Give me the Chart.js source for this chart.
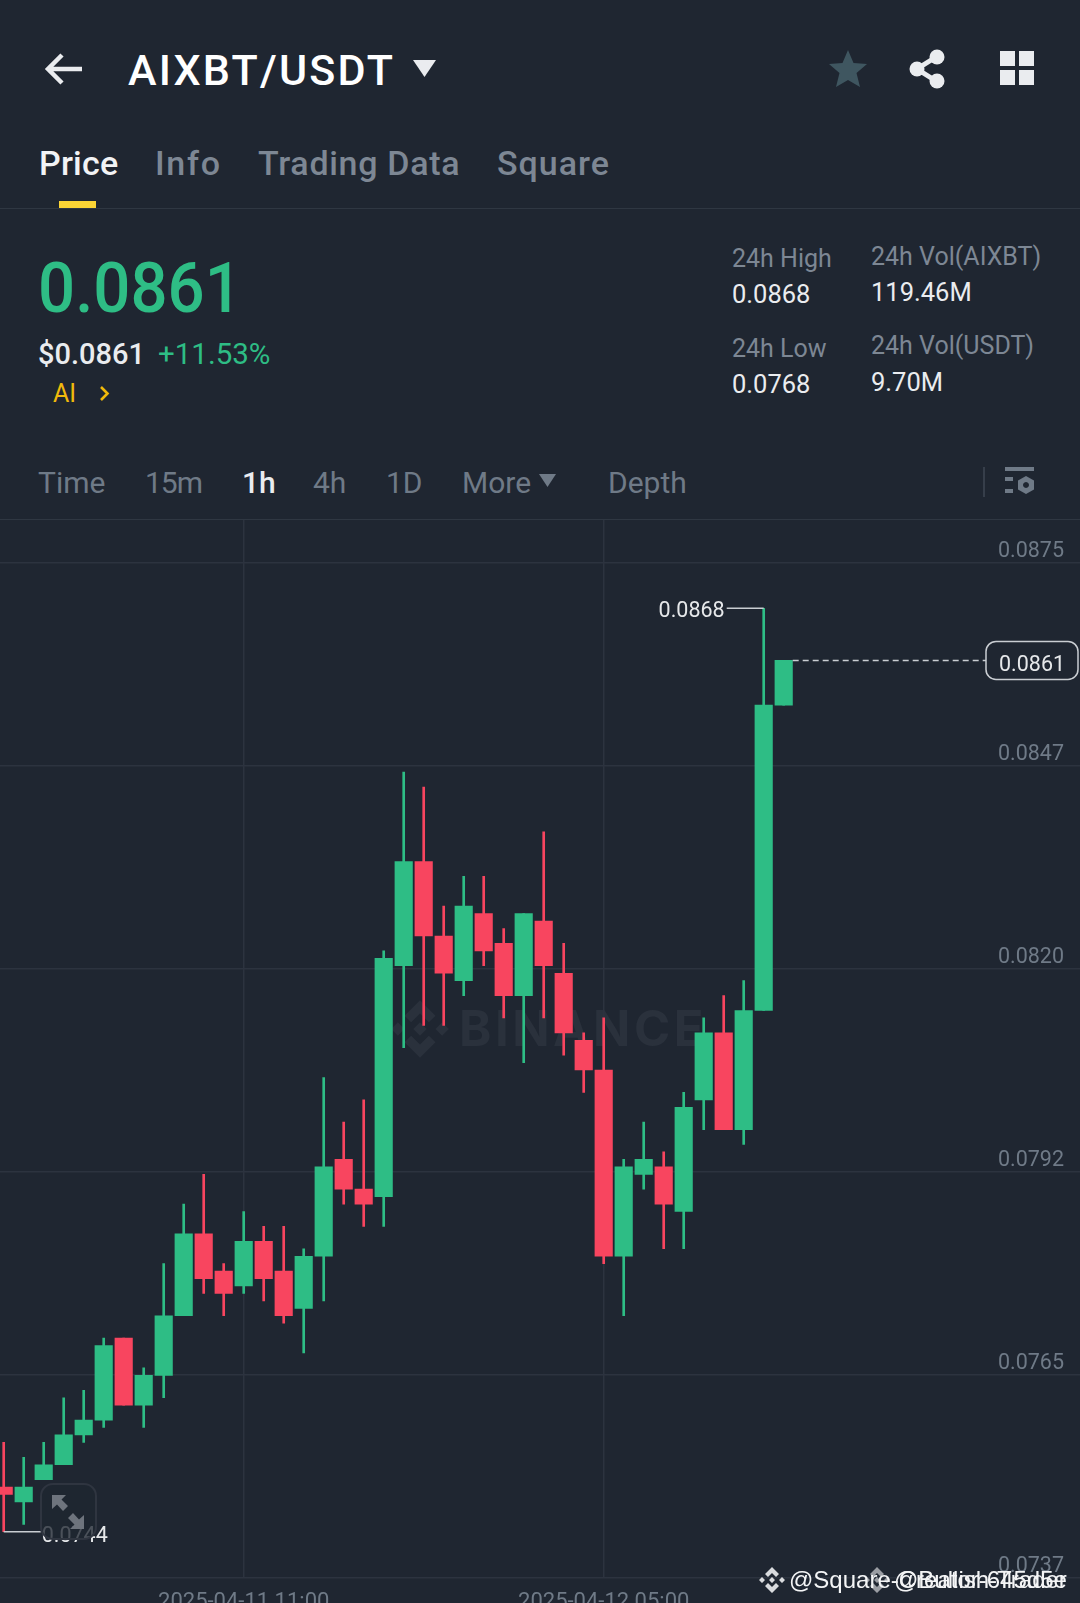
<!DOCTYPE html>
<html>
<head>
<meta charset="utf-8">
<title>AIXBT/USDT</title>
<script src="https://cdn.jsdelivr.net/npm/chart.js@4/dist/chart.umd.min.js"></script>
<style>
  html, body { margin: 0; padding: 0; width: 1080px; height: 1603px; overflow: hidden; background: #1f2631; }
  body { position: relative; font-family: Roboto, sans-serif; color: #eaecef; }
  .t { position: absolute; white-space: nowrap; line-height: 1; }
  .grey { color: #7d8794; }
  .tab { font-size: 34px; font-weight: 500; top: 146px; letter-spacing: 0.7px; }
  .stat { font-size: 25.5px; }
  .label { font-size: 25px; }
  .range { font-size: 30px; top: 468px; color: #6f7a87; }
  svg { position: absolute; }
  #chartWrap { position: absolute; left: 0; top: 520px; width: 1080px; height: 1100px; z-index: 2; }
  #wmText { position: absolute; left: 459px; top: 1004px; font: 700 49px Inter, sans-serif; letter-spacing: 3.5px; color: #2a313c; z-index: 1; line-height: 1; }
  .stamp { position: absolute; top: 1568px; font: 24px "Liberation Sans", sans-serif; color: #f4f5f6; z-index: 3; white-space: nowrap; line-height: 1; }
</style>
</head>
<body>
  <!-- top bar -->
  <svg style="left:44px;top:52px" width="40" height="34" viewBox="0 0 40 34"><path d="M18 3 L4 17 L18 31 M4 17 H38" fill="none" stroke="#eaecef" stroke-width="4.5"/></svg>
  <div class="t" style="left:128px;top:49px;font-size:43px;font-weight:500;letter-spacing:2.2px;color:#fff">AIXBT/USDT</div>
  <svg style="left:413px;top:60px" width="23" height="18"><path d="M0 0 H23 L11.5 17 Z" fill="#eaecef"/></svg>
  <svg style="left:828px;top:49px" width="40" height="40" viewBox="0 0 40 40"><path d="M20 1 L25.5 14 L39 15 L28.5 24 L32 38 L20 31 L8 38 L11.5 24 L1 15 L14.5 14 Z" fill="#3f5660"/></svg>
  <svg style="left:908px;top:48px" width="40" height="42" viewBox="0 0 40 42"><path d="M28 9 L9 21 L28 33" fill="none" stroke="#eaecef" stroke-width="5"/><circle cx="29" cy="9" r="7.5" fill="#eaecef"/><circle cx="9" cy="21" r="7.5" fill="#eaecef"/><circle cx="29" cy="33" r="7.5" fill="#eaecef"/></svg>
  <svg style="left:1000px;top:51px" width="34" height="34"><path d="M0 0 H15 V15 H0 Z M19 0 H34 V15 H19 Z M0 19 H15 V34 H0 Z M19 19 H34 V34 H19 Z" fill="#eaecef"/></svg>

  <!-- tabs -->
  <div class="t tab" style="left:39px;color:#f2f3f5;letter-spacing:0.2px">Price</div>
  <div class="t tab grey" style="left:155px;letter-spacing:1.7px">Info</div>
  <div class="t tab grey" style="left:258px">Trading Data</div>
  <div class="t tab grey" style="left:497px;letter-spacing:1px">Square</div>
  <div style="position:absolute;left:59px;top:201px;width:37px;height:7px;background:#fcd535"></div>
  <div style="position:absolute;left:0;top:208px;width:1080px;height:1px;background:#2f3742"></div>

  <!-- price block -->
  <div class="t" style="left:38px;top:252px;font-size:71px;font-weight:500;color:#2ebd85;transform:scaleX(0.92);transform-origin:left center">0.0861</div>
  <div class="t" style="left:38px;top:340px;font-size:29px;font-weight:500">$0.0861</div>
  <div class="t" style="left:158px;top:340px;font-size:29.5px;color:#2ebd85">+11.53%</div>
  <div class="t" style="left:53px;top:381px;font-size:25px;color:#f0b90b">AI</div>
  <svg style="left:99px;top:385px" width="11" height="17"><path d="M2 2 L8.5 8.5 L2 15" fill="none" stroke="#f0b90b" stroke-width="2.6"/></svg>

  <!-- 24h stats -->
  <div class="t label grey" style="left:732px;top:246px">24h High</div>
  <div class="t stat" style="left:732px;top:282px">0.0868</div>
  <div class="t label grey" style="left:732px;top:336px">24h Low</div>
  <div class="t stat" style="left:732px;top:372px">0.0768</div>
  <div class="t label grey" style="left:871px;top:244px">24h Vol(AIXBT)</div>
  <div class="t stat" style="left:871px;top:280px">119.46M</div>
  <div class="t label grey" style="left:871px;top:333px">24h Vol(USDT)</div>
  <div class="t stat" style="left:871px;top:370px">9.70M</div>

  <!-- interval row -->
  <div class="t range" style="left:38px">Time</div>
  <div class="t range" style="left:145px;letter-spacing:-1px">15m</div>
  <div class="t range" style="left:242px;color:#eaecef;font-weight:500">1h</div>
  <div class="t range" style="left:313px">4h</div>
  <div class="t range" style="left:386px">1D</div>
  <div class="t range" style="left:462px">More</div>
  <svg style="left:539px;top:474px" width="17" height="13"><path d="M0 0 H17 L8.5 13 Z" fill="#6f7a87"/></svg>
  <div class="t range" style="left:608px">Depth</div>
  <div style="position:absolute;left:983px;top:467px;width:2px;height:30px;background:#363e4a"></div>
  <svg style="left:1005px;top:467px" width="30" height="30" viewBox="0 0 30 30"><path d="M0 0 H29 V4 H0 Z M0 10 H8 V14 H0 Z M0 22 H8 V26 H0 Z" fill="#6f7a87"/><path d="M21 9 L29 13.5 V22.5 L21 27 L13 22.5 V13.5 Z M21 15 a3 3 0 1 0 0.01 0 Z" fill="#6f7a87" fill-rule="evenodd"/></svg>

  <!-- watermark sits behind the transparent canvas -->
  <svg style="left:389px;top:998px;z-index:1" width="62" height="62" viewBox="0 0 28 28"><path d="M14 1 L21 8 L18 11 L14 7 L10 11 L7 8 Z M14 27 L7 20 L10 17 L14 21 L18 17 L21 20 Z M1 14 L4 11 L7 14 L4 17 Z M27 14 L24 17 L21 14 L24 11 Z M14 11 L17 14 L14 17 L11 14 Z" fill="#2a313c"/></svg>
  <div id="wmText">BINANCE</div>

  <div style="position:absolute;left:0;top:519px;width:1080px;height:1px;background:#2f3742"></div>
  <div id="chartWrap"><canvas id="klineChart" width="1080" height="1100"></canvas></div>

  <!-- expand button -->
  <div style="position:absolute;left:40px;top:1483px;width:53px;height:53px;border:2px solid #2f3540;border-radius:13px;background:rgba(31,38,49,0.78);z-index:3"></div>
  <svg style="left:51px;top:1494px;z-index:4" width="34" height="36" viewBox="0 0 34 36"><path d="M1 1 H15 L10.5 5.5 L17 12 L12 17 L6 10.5 L1 15 Z M33 35 H19 L23.5 30.5 L17 24 L22 19 L28 25.5 L33 21 Z" fill="#6e747d"/></svg>

  <!-- overlaid platform stamps -->
  <svg style="left:758px;top:1566px;z-index:3" width="28" height="28" viewBox="0 0 28 28"><path d="M14 1 L21 8 L18 11 L14 7 L10 11 L7 8 Z M14 27 L7 20 L10 17 L14 21 L18 17 L21 20 Z M1 14 L4 11 L7 14 L4 17 Z M27 14 L24 17 L21 14 L24 11 Z M14 11 L17 14 L14 17 L11 14 Z" fill="#d9dbde"/></svg>
  <svg style="left:863px;top:1566px;z-index:3" width="28" height="28" viewBox="0 0 28 28"><path d="M14 1 L21 8 L18 11 L14 7 L10 11 L7 8 Z M14 27 L7 20 L10 17 L14 21 L18 17 L21 20 Z M1 14 L4 11 L7 14 L4 17 Z M27 14 L24 17 L21 14 L24 11 Z M14 11 L17 14 L14 17 L11 14 Z" fill="#9a9da3"/></svg>
  <div class="stamp" style="left:789px">@Square-Creator-645d5e</div>
  <div class="stamp" style="left:894px">@Bullish-Trader</div>

<script>
// bougies 1h, de gauche a droite
const opens = [
    0.0750, 0.0748, 0.0751, 0.0753, 0.0757, 0.0759, 0.0770, 0.0761, 0.0765, 0.0773,
    0.0784, 0.0779, 0.0777, 0.0783, 0.0779, 0.0774, 0.0781, 0.0794, 0.0790, 0.0789,
    0.0820, 0.0834, 0.0824, 0.0818, 0.0827, 0.0823, 0.0816, 0.0826, 0.0819, 0.0810,
    0.0806, 0.0781, 0.0792, 0.0793, 0.0787, 0.0802, 0.0811, 0.0798, 0.0814, 0.0855
];
const highs = [
    0.0756, 0.0754, 0.0756, 0.0762, 0.0763, 0.0770, 0.0770, 0.0766, 0.0780, 0.0788,
    0.0792, 0.0780, 0.0787, 0.0785, 0.0785, 0.0782, 0.0805, 0.0799, 0.0802, 0.0822,
    0.0846, 0.0844, 0.0828, 0.0832, 0.0832, 0.0825, 0.0827, 0.0838, 0.0823, 0.0811,
    0.0813, 0.0794, 0.0799, 0.0795, 0.0803, 0.0813, 0.0816, 0.0818, 0.0868, 0.0861
];
const lows = [
    0.0744, 0.0745, 0.0751, 0.0753, 0.0756, 0.0758, 0.0761, 0.0758, 0.0762, 0.0773,
    0.0776, 0.0773, 0.0776, 0.0775, 0.0772, 0.0768, 0.0775, 0.0788, 0.0785, 0.0785,
    0.0809, 0.0812, 0.0812, 0.0816, 0.0820, 0.0813, 0.0807, 0.0813, 0.0808, 0.0803,
    0.0780, 0.0773, 0.0790, 0.0782, 0.0782, 0.0798, 0.0798, 0.0796, 0.0814, 0.0855
];
const closes = [
    0.0749, 0.0750, 0.0753, 0.0757, 0.0759, 0.0769, 0.0761, 0.0765, 0.0773, 0.0784,
    0.0778, 0.0776, 0.0783, 0.0778, 0.0773, 0.0781, 0.0793, 0.0790, 0.0788, 0.0821,
    0.0834, 0.0824, 0.0819, 0.0828, 0.0822, 0.0816, 0.0827, 0.0820, 0.0811, 0.0806,
    0.0781, 0.0793, 0.0794, 0.0788, 0.0801, 0.0811, 0.0798, 0.0814, 0.0855, 0.0861
];

const priceTicks = [0.087418, 0.084686, 0.08196, 0.079237, 0.076509, 0.073783];
const priceLabels = ['0.0875', '0.0847', '0.0820', '0.0792', '0.0765', '0.0737'];
const timeTicks = [12, 30];
const timeLabels = ['2025-04-11 11:00', '2025-04-12 05:00'];

const colors = {
    up: '#2ebd85',
    down: '#f8455f',
    grid: '#2c333f',
    axisText: '#6f7a87',
    note: '#e6e8ea'
};

const barColors = opens.map((o, i) => closes[i] >= o ? colors.up : colors.down);
const wicks = opens.map((o, i) => ({ x: i, y: [lows[i], highs[i]] }));
const bodies = opens.map((o, i) => ({ x: i, y: [o, closes[i]] }));

// prix max, prix min et dernier prix, positionnes avec les echelles
const priceNotes = {
    id: 'priceNotes',
    afterDatasetsDraw(chart) {
        const { ctx, scales: { x, y } } = chart;
        const last = closes.length - 1;
        const maxIdx = highs.indexOf(Math.max(...highs));
        const minIdx = lows.indexOf(Math.min(...lows));
        const font = '21.5px Roboto, sans-serif';

        ctx.save();
        ctx.font = font;
        ctx.textBaseline = 'middle';
        ctx.strokeStyle = '#c9cdd2';
        ctx.lineWidth = 1.5;

        // max
        const maxX = x.getPixelForValue(maxIdx), maxY = y.getPixelForValue(highs[maxIdx]);
        ctx.beginPath();
        ctx.moveTo(maxX, maxY);
        ctx.lineTo(maxX - 37, maxY);
        ctx.stroke();
        ctx.fillStyle = colors.note;
        ctx.textAlign = 'right';
        ctx.fillText(highs[maxIdx].toFixed(4), maxX - 39, maxY + 3);

        // min
        const minX = x.getPixelForValue(minIdx), minY = y.getPixelForValue(lows[minIdx]);
        ctx.beginPath();
        ctx.moveTo(minX, minY);
        ctx.lineTo(minX + 37, minY);
        ctx.stroke();
        ctx.textAlign = 'left';
        ctx.fillText(lows[minIdx].toFixed(4), minX + 38, minY + 5);

        // dernier prix
        const lastX = x.getPixelForValue(last), lastY = y.getPixelForValue(closes[last]);
        ctx.setLineDash([6, 4]);
        ctx.beginPath();
        ctx.moveTo(lastX + 9, lastY);
        ctx.lineTo(986, lastY);
        ctx.stroke();
        ctx.setLineDash([]);
        ctx.beginPath();
        ctx.roundRect(986, lastY - 19, 92, 38, 10);
        ctx.fillStyle = '#1f2631';
        ctx.fill();
        ctx.stroke();
        ctx.fillStyle = colors.note;
        ctx.textAlign = 'center';
        ctx.fillText(closes[last].toFixed(4), 1032, lastY + 5);
        ctx.restore();
    }
};

Chart.defaults.font.family = 'Roboto, sans-serif';

new Chart(document.getElementById('klineChart'), {
    type: 'bar',
    data: {
        datasets: [
            { label: 'High/Low', data: wicks, backgroundColor: barColors, barThickness: 2, grouped: false, order: 2 },
            { label: 'Open/Close', data: bodies, backgroundColor: barColors, barThickness: 17.5, grouped: false, order: 1 }
        ]
    },
    plugins: [priceNotes],
    options: {
        responsive: false,
        animation: false,
        devicePixelRatio: 1,
        layout: { padding: 0 },
        plugins: { legend: { display: false }, tooltip: { enabled: false } },
        scales: {
            x: {
                type: 'linear',
                min: -0.185,
                max: 53.815,
                offset: false,
                grid: { color: colors.grid, lineWidth: 1.5, offset: false, drawTicks: false },
                border: { display: false },
                ticks: {
                    color: colors.axisText,
                    font: { size: 22 },
                    padding: 12,
                    autoSkip: false,
                    maxRotation: 0,
                    callback: (value, index) => timeLabels[index]
                },
                afterBuildTicks(scale) { scale.ticks = timeTicks.map(v => ({ value: v })); },
                afterFit(scale) {
                    scale.height = 42.3;
                    scale.paddingLeft = 0;
                    scale.paddingRight = 0;
                }
            },
            y: {
                type: 'linear',
                position: 'right',
                min: 0.073783,
                max: 0.087986,
                grid: { color: colors.grid, lineWidth: 1.5, drawTicks: false },
                border: { display: false },
                ticks: {
                    color: colors.axisText,
                    font: { size: 21.5 },
                    mirror: true,
                    padding: -16,
                    labelOffset: -11,
                    autoSkip: false,
                    callback: (value, index) => priceLabels[index]
                },
                afterBuildTicks(scale) { scale.ticks = priceTicks.map(v => ({ value: v })); },
                afterFit(scale) {
                    scale.width = 0;
                    scale.paddingTop = 0;
                    scale.paddingBottom = 0;
                }
            }
        }
    }
});
</script>
</body>
</html>
